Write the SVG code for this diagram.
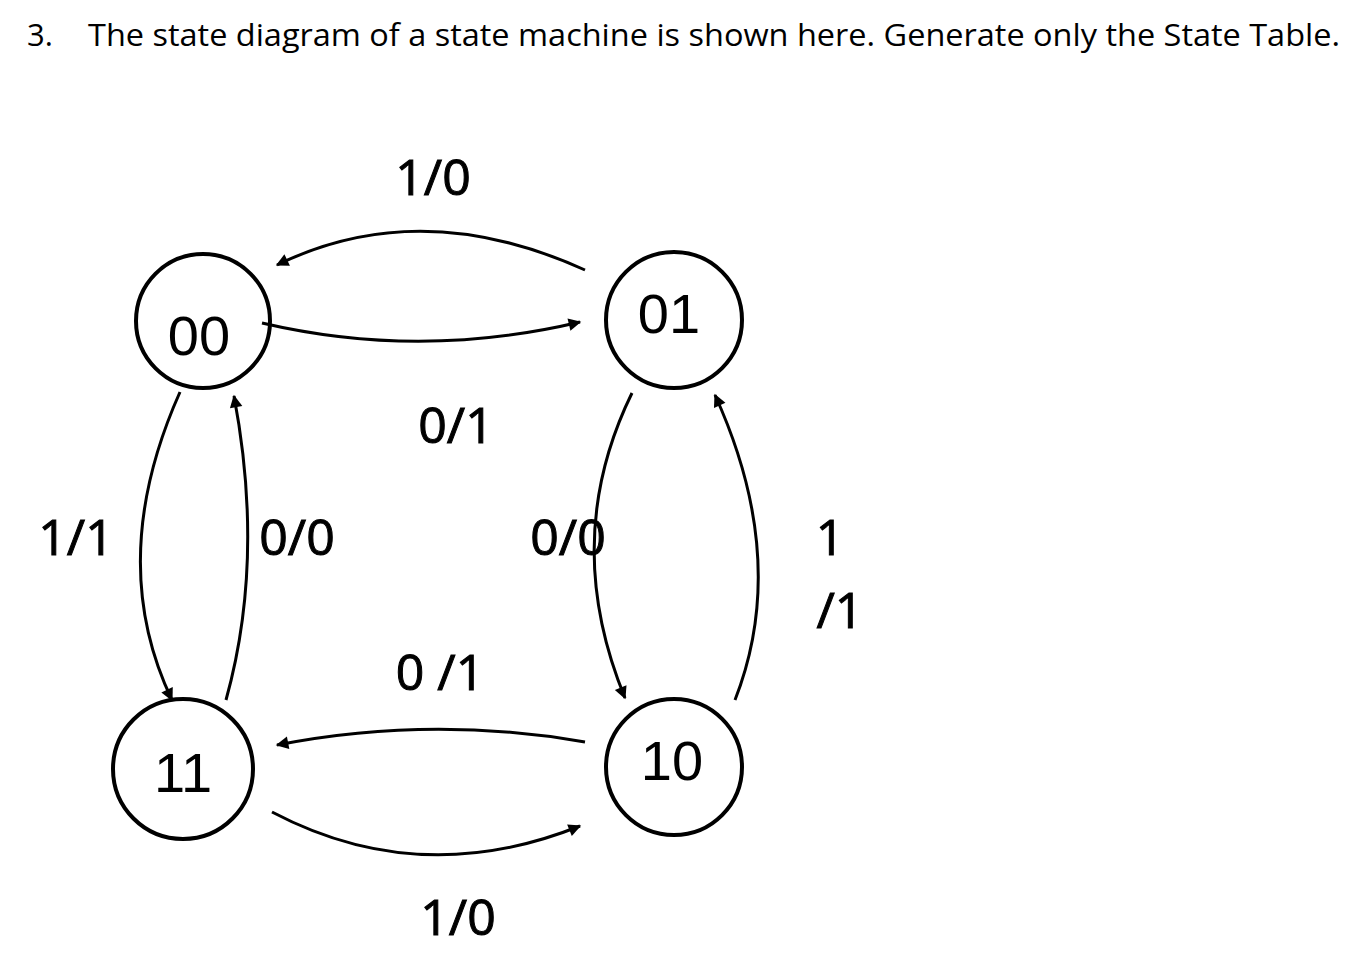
<svg xmlns="http://www.w3.org/2000/svg" width="1368" height="972" viewBox="0 0 1368 972">
<style>
.st{fill:none;stroke:#000;stroke-width:4}
.e{fill:none;stroke:#000;stroke-width:3;marker-end:url(#a)}
.n{font-family:"Liberation Sans",Arial,sans-serif;font-size:56px;text-anchor:middle}
.l{font-family:"Open Sans","Liberation Sans",sans-serif;font-size:50px;text-anchor:middle;stroke:#000;stroke-width:1}
.t{font-family:"Open Sans","Liberation Sans",sans-serif;font-size:31px}
</style>
<defs><marker id="a" viewBox="0 0 10 10" refX="9" refY="5" markerWidth="7" markerHeight="7" orient="auto" markerUnits="userSpaceOnUse" style="overflow:visible"><path d="M0,0L10,5L0,10z" transform="scale(1.8) translate(-4,-2.2)"/></marker></defs>
<rect width="1368" height="972" fill="#fff"/>
<text class="t" x="27" y="46">3.</text>
<text class="t" x="88" y="46" textLength="1252" lengthAdjust="spacingAndGlyphs">The state diagram of a state machine is shown here. Generate only the State Table.</text>
<g id="s00"><circle class="st" cx="203" cy="321" r="67"/><text class="n" x="199" y="355">00</text></g>
<g id="s01"><circle class="st" cx="674" cy="320" r="68"/><text class="n" x="669" y="333">01</text></g>
<g id="s11"><circle class="st" cx="183" cy="769" r="70"/><text class="n" x="183" y="792">11</text></g>
<g id="s10"><circle class="st" cx="674" cy="767" r="68"/><text class="n" x="672" y="780">10</text></g>
<g id="edges">
<path class="e" d="M585,270 Q420,195 277,265"/>
<path class="e" d="M262,323 Q420,360 580,322"/>
<path class="e" d="M180,392 Q105,560 172,700"/>
<path class="e" d="M226,700 Q265,560 234,396"/>
<path class="e" d="M632,393 Q560,540 625,698"/>
<path class="e" d="M735,700 Q790,560 715,395"/>
<path class="e" d="M585,742 Q430,715 277,745"/>
<path class="e" d="M272,812 Q420,890 580,826"/>
</g>
<g id="labels">
<text class="l" x="433" y="195">1/0</text>
<text class="l" x="456" y="443">0/1</text>
<text class="l" x="76" y="555">1/1</text>
<text class="l" x="297" y="555">0/0</text>
<text class="l" x="568" y="555">0/0</text>
<text class="l" x="830" y="555">1</text>
<text class="l" x="840" y="628">/1</text>
<text class="l" x="440" y="690">0 /1</text>
<text class="l" x="458" y="935">1/0</text>
</g>
</svg>
